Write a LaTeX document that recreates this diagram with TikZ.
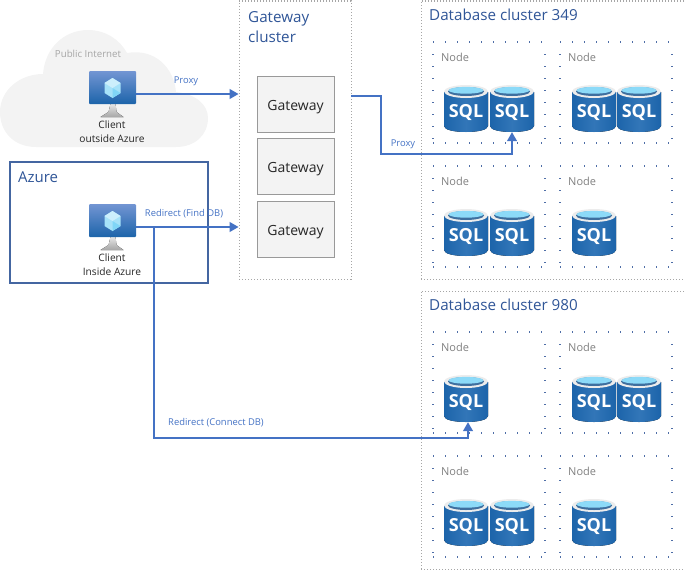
\documentclass[tikz,border=0pt]{standalone}
\usepackage{xcolor}
\usepackage{fontspec}
\setmainfont{Open Sans}
\usetikzlibrary{arrows.meta, positioning}
\definecolor{azureblue}{RGB}{47, 85, 151}
\definecolor{linkblue}{RGB}{68, 114, 196}
\definecolor{sqlblue}{RGB}{28, 100, 170}
\definecolor{sqlmid}{RGB}{50, 118, 184}
\definecolor{cloudgray}{RGB}{243, 243, 243}
\definecolor{dotgray}{RGB}{166, 166, 166}
\tikzstyle{arrow} = [
    line width=1.2pt,
    -{Triangle[length=9pt, width=10pt]},
    color=linkblue
]
\tikzstyle{linklabel} = [font=\fontsize{9.4}{11}\selectfont, color=linkblue]
\tikzstyle{cluster} = [draw=dotgray, line width=1pt, dash pattern=on 1.2pt off 1.8pt, inner sep=0pt]
\tikzstyle{clustertitle} = [anchor=west, font=\fontsize{15.2}{20}\selectfont, color=azureblue, align=left, inner sep=0pt]
\tikzstyle{nodebox} = [azureblue!85, line width=1.2pt, dash pattern=on 1.2pt off 10.8pt]
\tikzstyle{nodelabel} = [anchor=west, font=\fontsize{11}{13}\selectfont, color=gray, inner sep=0pt]
\tikzstyle{gatewaybox} = [draw=gray!80, fill=cloudgray, line width=0.8pt, minimum width=77pt, minimum height=56pt, text height=13pt, text depth=1pt, font=\fontsize{14}{16}\selectfont, text=black!85]
\tikzstyle{clientlabel} = [font=\fontsize{10.2}{14}\selectfont, align=center, text=black!85, inner sep=0pt]
\tikzstyle{sqlbody} = [minimum width=44pt, minimum height=47pt, inner sep=0pt]

% monitor with cube: name, centre x, top y
\newcommand{\clientvm}[3]{
    \begin{scope}[shift={(#2,#3)}]
        \fill[top color=gray!20, bottom color=gray!70] (-2,33) -- (3,33) -- (4,41) -- (11,46) -- (-12,46) -- (-4,41) -- cycle;
        \node[rounded corners=1pt, top color=linkblue!75, bottom color=sqlblue, minimum width=47pt, minimum height=33pt, inner sep=0pt] (#1) at (0,16.5) {};
        \fill[cyan!35] (0,7) -- (8,12) -- (8,22) -- (0,27) -- (-8,22) -- (-8,12) -- cycle;
        \fill[cyan!20] (0,7) -- (8,12) -- (0,17) -- (-8,12) -- cycle;
        \fill[cyan!50] (0,17) -- (8,22) -- (0,27) -- cycle;
    \end{scope}
}
% sql cylinder: name, left x, top y
\newcommand{\sqldb}[3]{
    \begin{scope}[shift={(#2,#3)}]
        \node[sqlbody] (#1) at (22,23.5) {};
        \fill[left color=sqlblue, right color=sqlblue, middle color=sqlmid] (0,7) -- (0,41) .. controls (0,49) and (44,49) .. (44,41) -- (44,7) -- cycle;
        \fill[gray!15] (22,6.5) ellipse [x radius=22, y radius=6.5];
        \fill[cyan!60!blue!70!black] (22,6.5) ellipse [x radius=18, y radius=4.5];
        \fill[cyan!45] (22,5.3) ellipse [x radius=17.5, y radius=3.4];
        \node[text=white, font=\fontsize{18}{18}\selectfont\bfseries, inner sep=0pt] (#1text) at (22,27.5) {SQL};
    \end{scope}
}

\begin{document}
\begin{tikzpicture}[x=1pt, y=-1pt]
        \useasboundingbox (0,0) rectangle (685,570);

        % Public internet
        \fill[cloudgray] (36,147) .. controls (14,147) and (0,132) .. (0,112)
            .. controls (0,90) and (20,74) .. (43,74)
            .. controls (45,48) and (64,30) .. (88,30)
            .. controls (106,30) and (120,40) .. (127,53)
            .. controls (155,48) and (174,68) .. (176,92)
            .. controls (195,94) and (208,104) .. (208,118)
            .. controls (208,135) and (195,147) .. (176,147) -- cycle;
        \node[font=\fontsize{9.7}{11}\selectfont, text=dotgray] (internet) at (88,54) {Public Internet};

        % Azure
        \node[draw=azureblue!90, line width=1.2pt, minimum width=198pt, minimum height=121pt, inner sep=0pt] (azure) at (109,222.5) {};
        \node[anchor=west, font=\fontsize{15}{17}\selectfont, text=azureblue, inner sep=0pt] (azuretitle) at (18,177) {Azure};

        % Clients
        \clientvm{vmout}{112.5}{71}
        \node[clientlabel] (vmoutlabel) at (112,132) {Client\\outside Azure};
        \clientvm{vmin}{112.5}{204}
        \node[clientlabel] (vminlabel) at (112,265) {Client\\Inside Azure};

        % Gateway cluster
        \node[cluster, minimum width=112pt, minimum height=278pt] (gwcluster) at (295,140) {};
        \node[clustertitle] (gwtitle) at (248,27) {Gateway\\cluster};
        \node[gatewaybox] (gateway1) at (295.5,104) {Gateway};
        \node[gatewaybox] (gateway2) at (295.5,166.5) {Gateway};
        \node[gatewaybox] (gateway3) at (295.5,229) {Gateway};

        % Database clusters
        \node[cluster, minimum width=264pt, minimum height=278pt] (cluster349) at (553,140) {};
        \node[clustertitle] (title349) at (429,15) {Database cluster 349};
        \node[cluster, minimum width=264pt, minimum height=278pt] (cluster980) at (553,430) {};
        \node[clustertitle] (title980) at (429,305) {Database cluster 980};

        % Node boxes
        \foreach \xa/\xb in {433/545, 560/672} {
            \foreach \ya/\yb in {42/155, 166/279, 332/445, 456/569} {
                \draw[nodebox] (\xa,\ya) -- (\xb,\ya) (\xb,\ya+12) -- (\xb,\yb-12) (\xa,\ya+12) -- (\xa,\yb-12) (\xa,\yb-12) -- (\xb,\yb-12);
                \node[nodelabel] at (\xa+8,\ya+15) {Node};
            }
        }

        % SQL cylinders
        \sqldb{dba}{444}{85}
        \sqldb{dbb}{490}{85}
        \sqldb{dbc}{572}{85}
        \sqldb{dbd}{617}{85}
        \sqldb{dbe}{444}{209}
        \sqldb{dbf}{490}{209}
        \sqldb{dbg}{572}{209}
        \sqldb{dbh}{444}{375}
        \sqldb{dbi}{572}{375}
        \sqldb{dbj}{617}{375}
        \sqldb{dbk}{444}{499}
        \sqldb{dbl}{490}{499}
        \sqldb{dbm}{572}{499}

        % Connectors
        \coordinate (vmoutport) at (136,94);
        \coordinate (vminport) at (136,227);
        \coordinate (proxyport) at (351,96);
        \coordinate (proxybend) at (381,154);
        \coordinate (branch) at (154,227);
        \coordinate (connectbend) at (154,438);
        \draw[arrow] (vmoutport) -- (vmoutport -| gwcluster.west);
        \draw[arrow] (vminport) -- (vminport -| gwcluster.west);
        \draw[arrow] (proxyport) -| (proxybend) -| (dbb.south);
        \draw[arrow] (branch) -- (connectbend) -| ([xshift=2pt]dbh.south);
        \node[linklabel] (proxya) at (186,81) {Proxy};
        \node[linklabel] (redirecta) at (184,214) {Redirect (Find DB)};
        \node[linklabel] (proxyb) at (403,144) {Proxy};
        \node[linklabel] (redirectb) at (216,423) {Redirect (Connect DB)};
    \end{tikzpicture}
\end{document}
